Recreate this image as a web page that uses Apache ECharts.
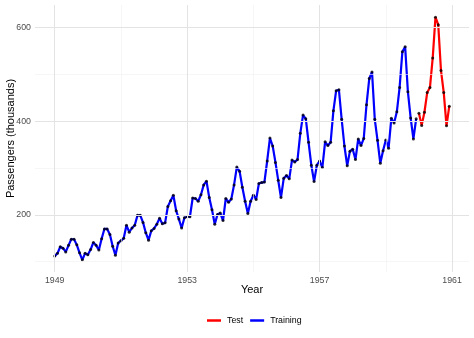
<!DOCTYPE html>
<html>
<head>
<meta charset="utf-8">
<script src="https://cdn.jsdelivr.net/npm/echarts@6/dist/echarts.min.js"></script>
<style>
  html, body { margin: 0; padding: 0; background: #fff; }
  #chart { width: 474px; height: 338px; }
</style>
</head>
<body>
<div id="chart"></div>
<script>
// Monthly airline passengers (thousands), Jan 1949 - Dec 1959 as training, 1960 as test
const trainingStartYear = 1949;
const trainingValues = [
  112, 118, 132, 129, 121, 135, 148, 148, 136, 119, 104, 118,
  115, 126, 141, 135, 125, 149, 170, 170, 158, 133, 114, 140,
  145, 150, 178, 163, 172, 178, 199, 199, 184, 162, 146, 166,
  171, 180, 193, 181, 183, 218, 230, 242, 209, 191, 172, 194,
  196, 196, 236, 235, 229, 243, 264, 272, 237, 211, 180, 201,
  204, 188, 235, 227, 234, 264, 302, 293, 259, 229, 203, 229,
  242, 233, 267, 269, 270, 315, 364, 347, 312, 274, 237, 278,
  284, 277, 317, 313, 318, 374, 413, 405, 355, 306, 271, 306,
  315, 301, 356, 348, 355, 422, 465, 467, 404, 347, 305, 336,
  340, 318, 362, 348, 363, 435, 491, 505, 404, 359, 310, 337,
  360, 342, 406, 396, 420, 472, 548, 559, 463, 407, 362, 405
];
const testStartYear = 1960;
const testValues = [417, 391, 419, 461, 472, 535, 622, 606, 508, 461, 390, 432];

const xMajorTicks = [1949, 1953, 1957, 1961];
const xMinorTicks = [1951, 1955, 1959];
const yMajorTicks = [200, 400, 600];
const yMinorTicks = [100, 300, 500];

// monthly time stamps as in a ts object: year + (month index)/12
function toPoints(startYear, values) {
  return values.map((v, i) => [startYear + i / 12, v]);
}
const trainingPts = toPoints(trainingStartYear, trainingValues);
const testPts = toPoints(testStartYear, testValues);

// 5% expansion of the data range on both axes
const allPts = trainingPts.concat(testPts);
const xs = allPts.map(p => p[0]), ys = allPts.map(p => p[1]);
const xLo = Math.min(...xs), xHi = Math.max(...xs);
const yLo = Math.min(...ys), yHi = Math.max(...ys);
const xPad = (xHi - xLo) * 0.05, yPad = (yHi - yLo) * 0.05;

const gridMajor = { color: '#e3e3e3', width: 1, type: 'solid' };
const gridMinor = { color: '#f0f0f0', width: 0.6, type: 'solid' };
const lineOf = (arr, key, style) => arr.map(v => ({ [key]: v, lineStyle: style }));

const chart = echarts.init(document.getElementById('chart'), null, { renderer: 'canvas' });
chart.setOption({
  animation: false,
  textStyle: { fontFamily: 'Liberation Sans, Arial, sans-serif' },
  grid: { left: 35, right: 5, top: 5, bottom: 66, outerBoundsMode: 'none', containLabel: false },
  xAxis: {
    type: 'value',
    min: xLo - xPad,
    max: xHi + xPad,
    name: 'Year',
    nameLocation: 'middle',
    nameGap: 12,
    nameMoveOverlap: false,
    nameTextStyle: { color: '#000', fontSize: 11 },
    axisLine: { show: false },
    axisTick: { show: false },
    splitLine: { show: false },
    axisLabel: {
      customValues: xMajorTicks,
      color: '#4d4d4d',
      fontSize: 8.8,
      margin: 4,
      formatter: v => String(Math.round(v))
    }
  },
  yAxis: {
    type: 'value',
    min: yLo - yPad,
    max: yHi + yPad,
    name: 'Passengers (thousands)',
    nameLocation: 'middle',
    nameGap: 19,
    nameMoveOverlap: false,
    nameTextStyle: { color: '#000', fontSize: 11 },
    axisLine: { show: false },
    axisTick: { show: false },
    splitLine: { show: false },
    axisLabel: {
      customValues: yMajorTicks,
      color: '#4d4d4d',
      fontSize: 8.8,
      margin: 4,
      formatter: v => String(Math.round(v))
    }
  },
  legend: {
    top: 311,
    left: 202,
    itemWidth: 14,
    itemHeight: 2.5,
    itemGap: 7,
    icon: 'rect',
    textStyle: { color: '#000', fontSize: 8.8, padding: [0, 0, 0, 1] },
    data: ['Test', 'Training']
  },
  series: [
    {
      name: 'grid',
      type: 'line',
      data: [],
      silent: true,
      markLine: {
        silent: true,
        symbol: 'none',
        label: { show: false },
        data: [].concat(
          lineOf(yMinorTicks, 'yAxis', gridMinor),
          lineOf(xMinorTicks, 'xAxis', gridMinor),
          lineOf(yMajorTicks, 'yAxis', gridMajor),
          lineOf(xMajorTicks, 'xAxis', gridMajor)
        )
      }
    },
    {
      name: 'Training',
      type: 'line',
      data: trainingPts,
      symbol: 'none',
      lineStyle: { color: '#0000ff', width: 2.2 },
      itemStyle: { color: '#0000ff' },
      z: 3
    },
    {
      name: 'Test',
      type: 'line',
      data: testPts,
      symbol: 'none',
      lineStyle: { color: '#ff0000', width: 2.2 },
      itemStyle: { color: '#ff0000' },
      z: 3
    },
    {
      name: 'points',
      type: 'scatter',
      data: allPts,
      symbolSize: 3,
      itemStyle: { color: '#000' },
      z: 4
    }
  ]
});
</script>
</body>
</html>
